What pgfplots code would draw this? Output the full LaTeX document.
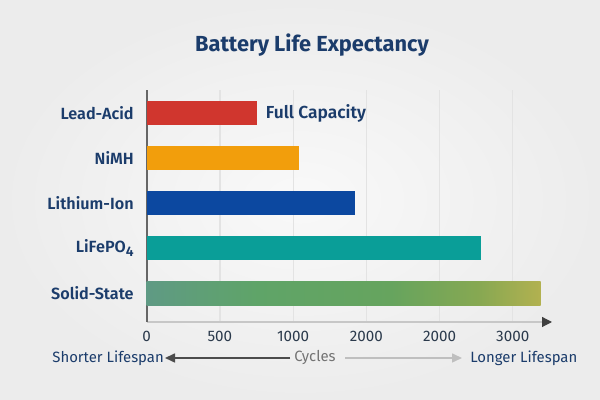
\documentclass[border=0pt]{standalone}
\usepackage{fontspec}
\setmainfont{Fira Sans}
\newfontfamily\semibold{Fira Sans SemiBold}
\usepackage{pgfplots}
\pgfplotsset{compat=1.18}
\usetikzlibrary{arrows.meta}

\definecolor{navy}{HTML}{1B3C6B}
\definecolor{ticktext}{HTML}{2B3A4C}
\definecolor{leadacid}{HTML}{D0362E}
\definecolor{nimh}{HTML}{F29E0C}
\definecolor{liion}{HTML}{0C48A0}
\definecolor{lifepo}{HTML}{0A9E98}
\definecolor{ssA}{HTML}{5F9A84}
\definecolor{ssB}{HTML}{5FA468}
\definecolor{ssC}{HTML}{66A45E}
\definecolor{ssD}{HTML}{86A852}
\definecolor{ssE}{HTML}{B2B150}
\definecolor{bgin}{HTML}{F9F9F9}
\definecolor{bgout}{HTML}{ECECEC}

% left-to-right colour run of the solid-state bar (the shaded path maps to 25bp..75bp)
\pgfdeclarehorizontalshading{solidstate}{100bp}{color(0bp)=(ssA); color(25bp)=(ssA); color(39bp)=(ssB); color(56bp)=(ssC); color(67bp)=(ssD); color(75bp)=(ssE); color(100bp)=(ssE)}

\begin{document}
\begin{tikzpicture}[x=1pt,y=1pt]
  \useasboundingbox (0,0) rectangle (300,200);
  % soft backdrop
  \shade[inner color=bgin, outer color=bgout] (0,0) rectangle (300,200);

  \node[font=\fontsize{10.9}{13}\selectfont\bfseries, text=navy] at (156,177.5) {Battery Life Expectancy};

  \begin{axis}[
    at={(73.35pt,39pt)}, anchor=south west,
    scale only axis, width=202.65pt, height=116pt,
    xmin=0, xmax=2768, ymin=-0.644, ymax=4.511,
    axis x line*=bottom, axis y line*=left,
    x axis line style={draw=black!22, line width=0.6pt,
      -{Triangle[length=5pt,width=5pt,color=black!75]}},
    y axis line style={draw=black!60, line width=1pt},
    xtick={0,500,1000,1500,2000,2500},
    xticklabels={0,500,1000,2000,2000,3000},
    ytick={0,1,2,3,4},
    yticklabels={Solid-State, LiFePO\raisebox{-0.5ex}{\fontsize{7}{7}\selectfont 4}, Lithium-Ion, NiMH, Lead-Acid},
    major tick length=0pt,
    xmajorgrids, grid style={draw=black!11, line width=0.6pt},
    /pgf/number format/assume math mode=true,
    xticklabel style={font=\fontsize{7.6}{8}\selectfont, text=ticktext, yshift=-1pt},
    yticklabel style={font=\fontsize{8.1}{10}\selectfont\semibold, text=navy, xshift=-3pt},
    xbar, bar width=12pt,
  ]
    \addplot[xbar, bar shift=0pt, draw=none, fill=leadacid] coordinates {(750,4)};
    \addplot[xbar, bar shift=0pt, draw=none, fill=nimh] coordinates {(1040,3)};
    \addplot[xbar, bar shift=0pt, draw=none, fill=liion] coordinates {(1420,2)};
    \addplot[xbar, bar shift=0pt, draw=none, fill=lifepo] coordinates {(2280,1)};
    \addplot[xbar, bar shift=0pt, draw=none, shading=solidstate] coordinates {(2690,0)};
    \node[anchor=west, inner sep=0pt, xshift=4.5pt, font=\fontsize{8.7}{11}\selectfont\semibold, text=navy]
      at (axis cs:750,4) {Full Capacity};
  \end{axis}

  % cycles direction legend
  \node[anchor=west, inner sep=0pt, font=\fontsize{7.45}{9}\selectfont, text=navy] at (26,21) {Shorter Lifespan};
  \draw[black!70, line width=0.8pt, -{Triangle[length=5pt,width=4.5pt]}] (145,21) -- (82.5,21);
  \node[font=\fontsize{7.45}{9}\selectfont, text=black!55] at (157.5,21) {Cycles};
  \draw[black!25, line width=0.8pt, -{Triangle[length=5pt,width=4.5pt]}] (172.5,21) -- (231,21);
  \node[anchor=west, inner sep=0pt, font=\fontsize{7.45}{9}\selectfont, text=navy] at (235,21) {Longer Lifespan};
\end{tikzpicture}
\end{document}
